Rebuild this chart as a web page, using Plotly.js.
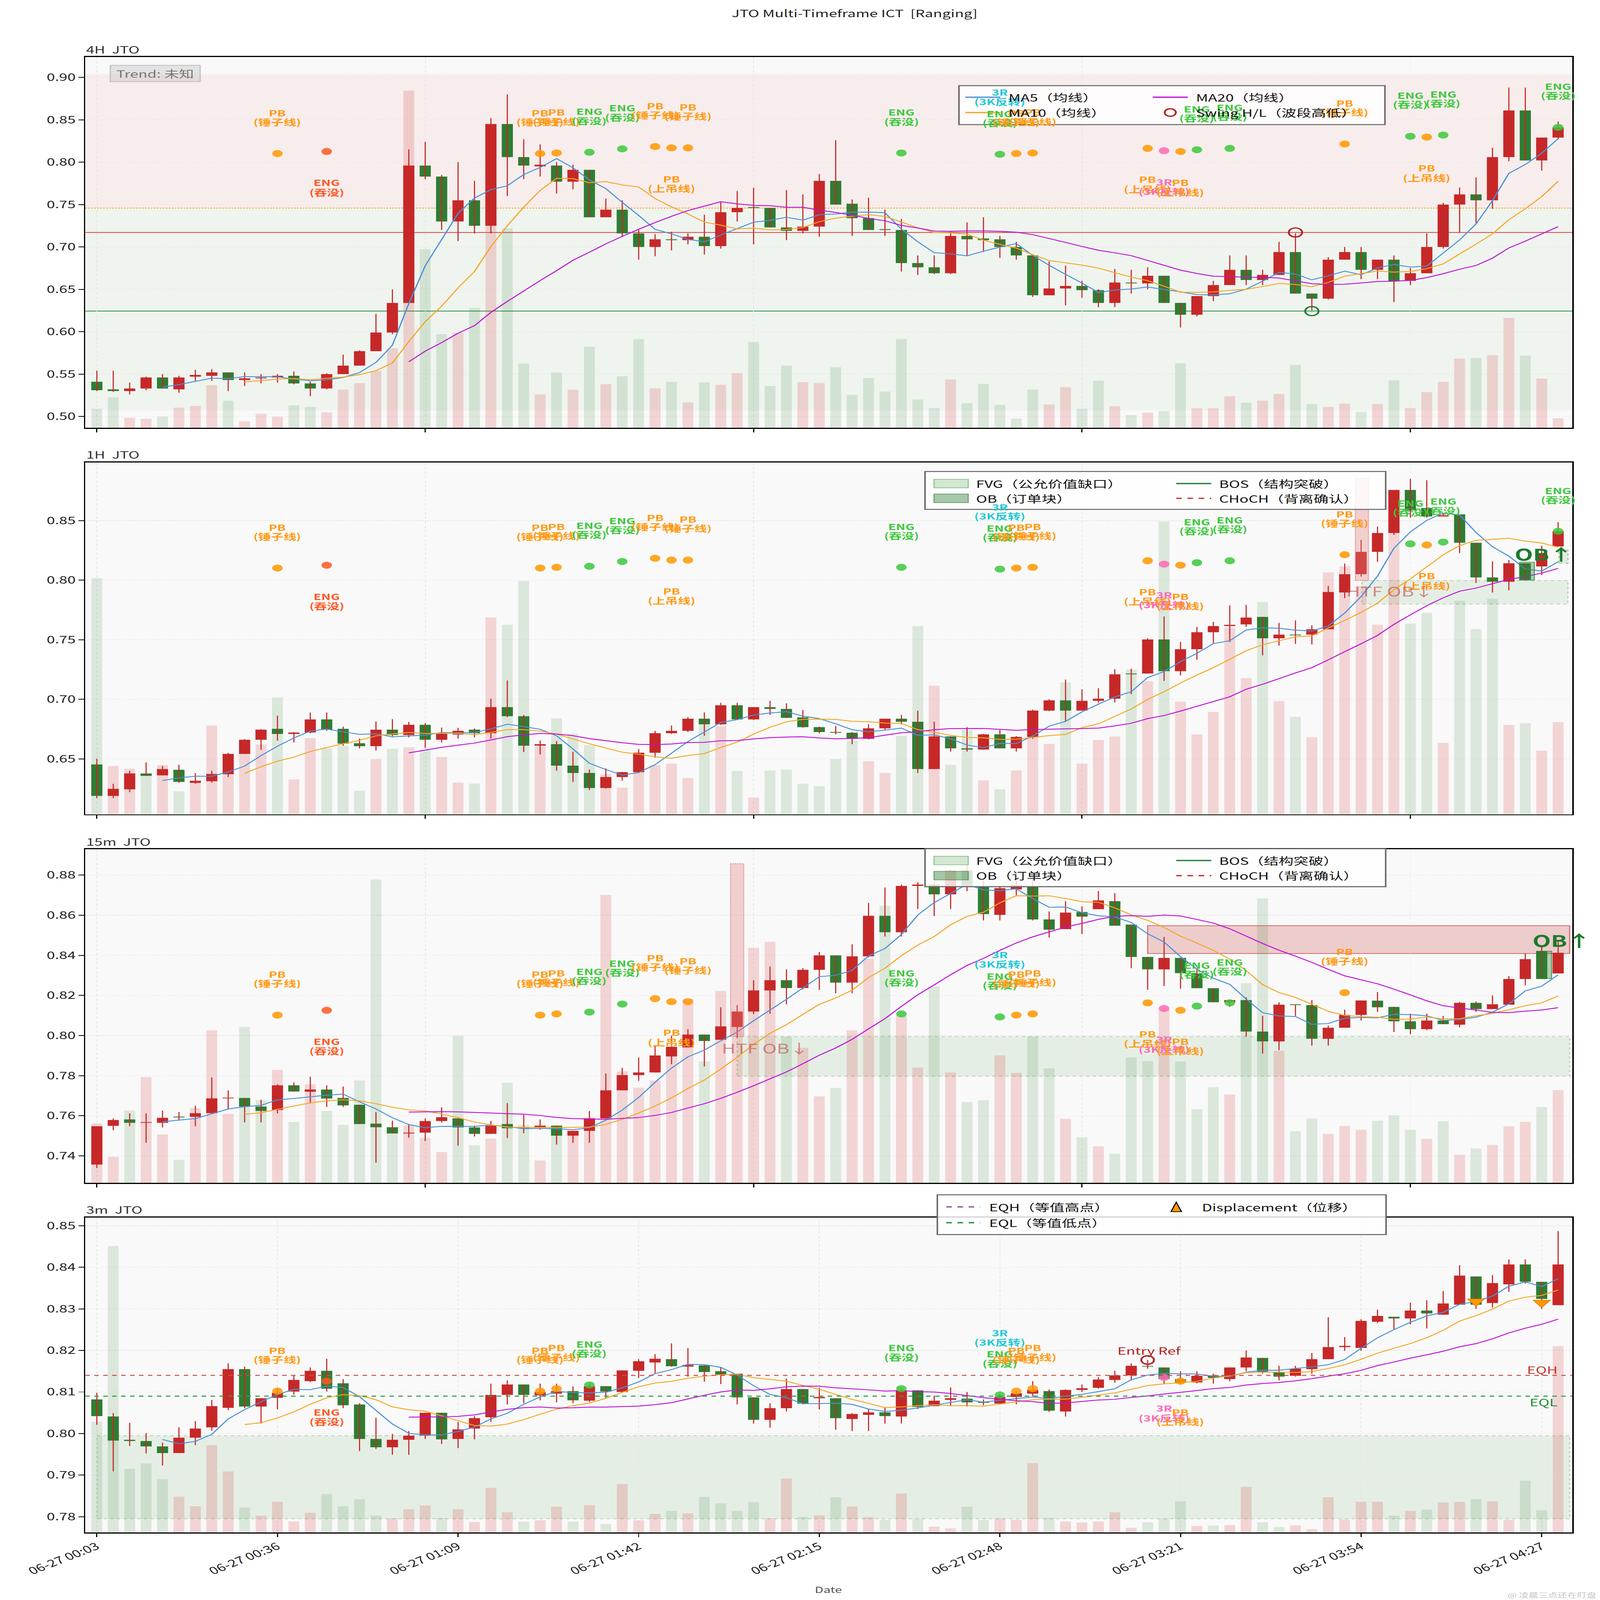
<!DOCTYPE html>
<html><head><meta charset="utf-8">
<script src="https://cdn.plot.ly/plotly-3.0.1.min.js"></script>
<style>html,body{margin:0;padding:0;background:#fff;overflow:hidden}#chart{position:absolute;left:0;top:0;width:4293px;height:6370px;transform-origin:0 0}</style>
</head><body><div id="chart"></div>
<script>
const W = 4293, H = 6370;
const FONT = '"Noto Sans CJK SC","Noto Sans",sans-serif';

// ---------------- DATA ----------------
const idx = Array.from({length: 90}, (_, i) => i);
const xTickVals = [0, 11, 22, 33, 44, 55, 66, 77, 88];
const xTickText = ['06-27 00:03','06-27 00:36','06-27 01:09','06-27 01:42','06-27 02:15','06-27 02:48','06-27 03:21','06-27 03:54','06-27 04:27'];

// 4H
const o4h = [0.541,0.532,0.530,0.533,0.546,0.532,0.547,0.548,0.552,0.543, 0.545,0.546,0.548,0.539,0.533,0.550,0.560,0.577,0.599,0.634, 0.796,0.783,0.730,0.755,0.725,0.845,0.806,0.795,0.796,0.777, 0.791,0.735,0.744,0.716,0.700,0.709,0.708,0.712,0.701,0.741, 0.747,0.746,0.723,0.719,0.724,0.778,0.751,0.734,0.721,0.720, 0.681,0.676,0.669,0.713,0.710,0.709,0.700,0.690,0.643,0.651, 0.654,0.649,0.634,0.658,0.657,0.666,0.634,0.620,0.642,0.655, 0.673,0.661,0.667,0.694,0.645,0.639,0.685,0.694,0.673,0.685, 0.660,0.669,0.700,0.750,0.762,0.755,0.806,0.861,0.802,0.829];
const h4h = [0.554,0.554,0.540,0.547,0.550,0.548,0.555,0.556,0.552,0.552, 0.550,0.550,0.553,0.541,0.551,0.573,0.578,0.621,0.650,0.815, 0.824,0.785,0.800,0.778,0.852,0.880,0.827,0.821,0.800,0.797, 0.791,0.757,0.755,0.720,0.715,0.718,0.716,0.738,0.753,0.766, 0.770,0.746,0.767,0.762,0.786,0.826,0.756,0.758,0.744,0.733, 0.690,0.690,0.719,0.729,0.735,0.713,0.706,0.690,0.683,0.678, 0.660,0.650,0.674,0.673,0.676,0.666,0.634,0.642,0.660,0.690, 0.690,0.673,0.706,0.716,0.645,0.688,0.700,0.700,0.685,0.690, 0.675,0.716,0.752,0.770,0.782,0.817,0.888,0.888,0.829,0.848];
const l4h = [0.530,0.529,0.526,0.531,0.533,0.528,0.542,0.542,0.530,0.536, 0.539,0.540,0.538,0.524,0.532,0.550,0.560,0.577,0.597,0.632, 0.780,0.720,0.707,0.716,0.716,0.760,0.780,0.783,0.763,0.768, 0.735,0.735,0.712,0.685,0.689,0.696,0.703,0.691,0.698,0.730, 0.703,0.723,0.708,0.716,0.712,0.750,0.713,0.720,0.713,0.671, 0.667,0.668,0.668,0.690,0.694,0.687,0.685,0.641,0.643,0.631, 0.640,0.629,0.629,0.645,0.650,0.634,0.605,0.618,0.636,0.655, 0.655,0.655,0.667,0.645,0.625,0.638,0.685,0.662,0.662,0.635, 0.655,0.669,0.698,0.717,0.728,0.745,0.801,0.802,0.790,0.827];
const c4h = [0.531,0.530,0.533,0.546,0.533,0.546,0.549,0.552,0.543,0.545, 0.546,0.548,0.539,0.533,0.550,0.560,0.577,0.599,0.634,0.796, 0.783,0.730,0.755,0.725,0.845,0.806,0.796,0.797,0.777,0.791, 0.735,0.744,0.716,0.700,0.709,0.708,0.712,0.701,0.741,0.746, 0.746,0.723,0.719,0.724,0.778,0.750,0.734,0.720,0.720,0.681, 0.676,0.669,0.713,0.709,0.708,0.700,0.690,0.643,0.651,0.654, 0.649,0.634,0.658,0.657,0.666,0.634,0.620,0.642,0.655,0.673, 0.661,0.667,0.694,0.645,0.639,0.685,0.694,0.673,0.685,0.660, 0.669,0.700,0.750,0.762,0.755,0.806,0.861,0.802,0.829,0.841];
const v4h = [74,119,39,35,44,78,85,166,105,25, 55,43,87,81,60,149,174,222,310,1314, 696,365,370,467,800,777,250,130,215,148, 316,170,201,346,154,179,99,177,167,213, 334,163,242,178,174,236,128,194,141,346, 110,77,188,96,171,89,36,149,91,158, 74,183,84,50,59,65,251,76,76,123, 98,106,132,245,92,81,94,62,93,185, 77,139,179,269,272,283,428,281,192,37];

// 1H
const o1h = [0.6453,0.6189,0.6244,0.6377,0.6361,0.6408,0.6298,0.6312,0.6371,0.6541, 0.6660,0.6752,0.6709,0.6721,0.6831,0.6752,0.6631,0.6606,0.6745,0.6700, 0.6786,0.6660,0.6704,0.6745,0.6715,0.6934,0.6858,0.6610,0.6623,0.6443, 0.6381,0.6255,0.6347,0.6388,0.6551,0.6715,0.6735,0.6837,0.6790,0.6950, 0.6831,0.6934,0.6919,0.6848,0.6766,0.6725,0.6719,0.6668,0.6756,0.6837, 0.6811,0.6414,0.6688,0.6588,0.6578,0.6705,0.6588,0.6684,0.6905,0.6991, 0.6905,0.6987,0.7005,0.7216,0.7216,0.7502,0.7236,0.7420,0.7563,0.7615, 0.7629,0.7692,0.7512,0.7543,0.7543,0.7588,0.7897,0.8050,0.8238,0.8396, 0.8758,0.8606,0.8535,0.8553,0.8314,0.8023,0.7987,0.8142,0.8116,0.8283];
const h1h = [0.650,0.629,0.640,0.647,0.644,0.645,0.638,0.640,0.655,0.6665, 0.6749,0.6862,0.6725,0.6889,0.6889,0.677,0.667,0.6813,0.6833,0.681, 0.680,0.6762,0.676,0.6755,0.7005,0.7158,0.6868,0.6653,0.665,0.656, 0.641,0.642,0.6390,0.6582,0.6735,0.678,0.685,0.6889,0.697,0.697, 0.6934,0.6987,0.6966,0.691,0.6770,0.6776,0.6725,0.679,0.6837,0.6868, 0.6905,0.6811,0.6690,0.6766,0.6710,0.6741,0.6690,0.6913,0.7000,0.7165, 0.7083,0.7093,0.7253,0.7257,0.7512,0.7696,0.7482,0.7608,0.7650,0.7788, 0.7792,0.7692,0.7641,0.7662,0.7621,0.7952,0.8140,0.8339,0.8450,0.8758, 0.8852,0.8840,0.8560,0.8553,0.8314,0.8158,0.8168,0.8142,0.8289,0.8488];
const l1h = [0.617,0.617,0.622,0.6357,0.6361,0.630,0.629,0.630,0.6347,0.654, 0.6576,0.6653,0.6637,0.6715,0.6735,0.661,0.6588,0.657,0.6690,0.668, 0.6592,0.6637,0.667,0.668,0.667,0.6850,0.6557,0.6537,0.640,0.6306, 0.6238,0.6250,0.6316,0.6380,0.651,0.6709,0.6725,0.6694,0.6785,0.6831, 0.6827,0.6868,0.6844,0.6762,0.6715,0.6705,0.6623,0.6664,0.6745,0.6790, 0.6381,0.6414,0.6561,0.6561,0.6575,0.6588,0.6561,0.6668,0.6900,0.6817, 0.6905,0.6970,0.6974,0.7042,0.7216,0.7154,0.7200,0.7332,0.7471,0.7480, 0.7608,0.7369,0.7451,0.7465,0.7461,0.7588,0.7850,0.8030,0.8155,0.8380, 0.8525,0.8525,0.8535,0.8228,0.7977,0.7896,0.7916,0.8003,0.8044,0.8283];
const c1h = [0.6189,0.6248,0.6377,0.6357,0.6414,0.6306,0.6316,0.6373,0.6541,0.6660, 0.6745,0.6709,0.6721,0.6831,0.6745,0.6627,0.6606,0.6745,0.6700,0.6786, 0.6660,0.6711,0.6735,0.6715,0.6934,0.6858,0.6610,0.6623,0.6443,0.6381, 0.6255,0.6347,0.6388,0.6551,0.6715,0.6735,0.6837,0.6790,0.6950,0.6831, 0.6934,0.6919,0.6844,0.6766,0.6725,0.6719,0.6668,0.6756,0.6837,0.6811, 0.6414,0.6688,0.6588,0.6578,0.6705,0.6588,0.6684,0.6905,0.6991,0.6905, 0.6987,0.7005,0.7210,0.7210,0.7502,0.7236,0.7420,0.7563,0.7615,0.7625, 0.7686,0.7512,0.7543,0.7537,0.7588,0.7901,0.8050,0.8238,0.8396,0.8758, 0.8586,0.8535,0.8545,0.8314,0.8023,0.7987,0.8142,0.8003,0.8228,0.8412];
const v1h = [960,196,185,158,200,93,128,361,163,248, 284,475,142,310,268,278,96,224,266,272, 263,233,129,125,800,770,948,275,390,328, 281,163,108,198,200,206,148,368,358,176, 68,178,182,124,114,225,300,216,168,318, 765,523,201,343,138,102,178,328,286,536, 206,302,316,588,541,1190,458,325,416,758, 553,863,460,396,313,983,1008,928,770,1300, 775,818,290,868,753,876,363,371,258,375];

// 15m
const o15 = [0.7357,0.7550,0.7582,0.7565,0.7565,0.7596,0.7595,0.7613,0.7687,0.7689, 0.7646,0.7629,0.7752,0.7720,0.7731,0.7689,0.7655,0.7561,0.7543,0.7512, 0.7516,0.7574,0.7587,0.7542,0.7510,0.7559,0.7542,0.7542,0.7551,0.7501, 0.7525,0.7587,0.7727,0.7803,0.7816,0.7896,0.7941,0.8005,0.7979,0.8043, 0.8120,0.8225,0.8276,0.8237,0.8328,0.8400,0.8264,0.8395,0.8597,0.8515, 0.8746,0.8753,0.8704,0.8823,0.8744,0.8602,0.8729,0.8744,0.8579,0.8531, 0.8616,0.8630,0.8670,0.8553,0.8392,0.8330,0.8387,0.8311,0.8236,0.8166, 0.8177,0.8020,0.7971,0.8154,0.8152,0.7984,0.8039,0.8103,0.8174,0.8143, 0.8071,0.8032,0.8075,0.8054,0.8163,0.8132,0.8154,0.8282,0.8421,0.8310];
const h15 = [0.7548,0.7587,0.7612,0.7612,0.7626,0.7619,0.7650,0.7791,0.7727,0.7689, 0.7680,0.7757,0.7766,0.7795,0.7752,0.7746,0.7655,0.7619,0.7576,0.7559, 0.7587,0.7642,0.7587,0.7551,0.7574,0.7663,0.7604,0.7582,0.7551,0.7525, 0.7624,0.7811,0.7839,0.7891,0.7950,0.8000,0.8032,0.8005,0.8141,0.8152, 0.8276,0.8344,0.8330,0.8336,0.8417,0.8400,0.8455,0.8661,0.8738,0.8753, 0.8764,0.8764,0.8829,0.8850,0.8780,0.8745,0.8780,0.8780,0.8619,0.8670, 0.8644,0.8721,0.8710,0.8553,0.8392,0.8492,0.8387,0.8336,0.8236,0.8177, 0.8191,0.8098,0.8166,0.8154,0.8177,0.8050,0.8129,0.8175,0.8217,0.8143, 0.8109,0.8109,0.8098,0.8168,0.8170,0.8200,0.8296,0.8409,0.8449,0.8474];
const l15 = [0.7340,0.7528,0.7548,0.7466,0.7542,0.7576,0.7548,0.7613,0.7635,0.7567, 0.7567,0.7612,0.7721,0.7661,0.7644,0.7644,0.7559,0.7366,0.7512,0.7491, 0.7474,0.7567,0.7451,0.7497,0.7510,0.7489,0.7513,0.7531,0.7457,0.7465, 0.7465,0.7587,0.7727,0.7774,0.7816,0.7857,0.7941,0.7846,0.7979,0.7990, 0.8107,0.8109,0.8156,0.8230,0.8228,0.8211,0.8211,0.8390,0.8494,0.8494, 0.8631,0.8596,0.8631,0.8720,0.8574,0.8574,0.8700,0.8574,0.8489,0.8531, 0.8506,0.8630,0.8548,0.8336,0.8228,0.8247,0.8234,0.8236,0.8166,0.8143, 0.7995,0.7910,0.7927,0.8098,0.7950,0.7950,0.8039,0.8075,0.8118,0.8018, 0.8007,0.8027,0.8057,0.8041,0.8118,0.8132,0.8154,0.8251,0.8282,0.8310];
const c15 = [0.7548,0.7579,0.7565,0.7567,0.7590,0.7592,0.7613,0.7687,0.7689,0.7646, 0.7624,0.7752,0.7721,0.7731,0.7686,0.7652,0.7559,0.7543,0.7512,0.7516, 0.7574,0.7593,0.7542,0.7510,0.7550,0.7538,0.7538,0.7551,0.7501,0.7525, 0.7587,0.7727,0.7803,0.7816,0.7901,0.7944,0.8005,0.7973,0.8046,0.8120, 0.8225,0.8276,0.8237,0.8328,0.8400,0.8264,0.8395,0.8597,0.8515,0.8746, 0.8753,0.8704,0.8823,0.8744,0.8606,0.8735,0.8750,0.8579,0.8528,0.8613, 0.8593,0.8674,0.8548,0.8392,0.8330,0.8387,0.8311,0.8236,0.8166,0.8177, 0.8020,0.7971,0.8154,0.8152,0.7984,0.8039,0.8103,0.8175,0.8141,0.8071, 0.8032,0.8075,0.8057,0.8163,0.8132,0.8156,0.8282,0.8381,0.8282,0.8413];
const v15 = [261,115,318,465,213,101,328,670,303,685, 363,496,268,433,316,255,450,1333,243,253, 198,135,645,165,195,440,255,98,233,228, 288,1266,490,418,450,578,808,533,843,733, 1033,1059,643,593,380,417,670,985,1218,733, 506,863,485,355,363,560,483,643,503,281, 200,160,128,551,535,763,533,323,420,388, 878,1250,580,227,283,215,250,233,273,296, 233,193,271,123,151,166,248,268,333,408];

// 3m
const o3m = [0.8082,0.8041,0.7985,0.7982,0.7969,0.7953,0.7990,0.8015,0.8062,0.8155, 0.8065,0.8086,0.8101,0.8126,0.8151,0.8121,0.8070,0.7987,0.7967,0.7985, 0.7995,0.8050,0.7987,0.8012,0.8039,0.8093,0.8118,0.8092,0.8096,0.8102, 0.8079,0.8114,0.8100,0.8151,0.8171,0.8179,0.8161,0.8164,0.8150,0.8144, 0.8087,0.8033,0.8061,0.8107,0.8085,0.8085,0.8035,0.8045,0.8051,0.8041, 0.8104,0.8066,0.8081,0.8084,0.8076,0.8072,0.8088,0.8096,0.8102,0.8053, 0.8105,0.8110,0.8129,0.8140,0.8162,0.8159,0.8131,0.8123,0.8140,0.8131, 0.8159,0.8182,0.8147,0.8139,0.8155,0.8179,0.8208,0.8206,0.8269,0.8281, 0.8277,0.8296,0.8286,0.8310,0.8378,0.8314,0.8359,0.8407,0.8365,0.8309];
const h3m = [0.8098,0.8049,0.8026,0.8001,0.7978,0.8015,0.8030,0.8081,0.8169,0.8161, 0.8085,0.8110,0.8140,0.8159,0.8180,0.8131,0.8073,0.8038,0.7999,0.8006, 0.8050,0.8050,0.8028,0.8042,0.8120,0.8128,0.8118,0.8120,0.8120,0.8113, 0.8122,0.8114,0.8152,0.8179,0.8191,0.8217,0.8206,0.8164,0.8159,0.8144, 0.8087,0.8073,0.8132,0.8107,0.8110,0.8085,0.8049,0.8060,0.8064,0.8110, 0.8104,0.8091,0.8111,0.8100,0.8082,0.8095,0.8102,0.8126,0.8106,0.8106, 0.8118,0.8136,0.8151,0.8169,0.8177,0.8159,0.8150,0.8150,0.8144,0.8159, 0.8200,0.8182,0.8163,0.8163,0.8194,0.8280,0.8232,0.8275,0.8298,0.8281, 0.8315,0.8321,0.8343,0.8405,0.8378,0.8381,0.8419,0.8419,0.8365,0.8487];
const l3m = [0.8021,0.7909,0.7970,0.7952,0.7923,0.7953,0.7972,0.8007,0.8056,0.8061, 0.8024,0.8058,0.8094,0.8124,0.8101,0.8061,0.7958,0.7963,0.7949,0.7949, 0.7987,0.7975,0.7965,0.7986,0.8028,0.8070,0.8073,0.8080,0.8075,0.8073, 0.8076,0.8085,0.8100,0.8134,0.8145,0.8161,0.8137,0.8125,0.8119,0.8070, 0.8024,0.8014,0.8053,0.8070,0.8058,0.8009,0.8006,0.8006,0.8024,0.8024, 0.8059,0.8066,0.8067,0.8065,0.8068,0.8070,0.8070,0.8090,0.8052,0.8041, 0.8100,0.8108,0.8122,0.8128,0.8156,0.8120,0.8118,0.8121,0.8120,0.8126, 0.8150,0.8144,0.8128,0.8137,0.8144,0.8179,0.8199,0.8199,0.8266,0.8251, 0.8263,0.8253,0.8286,0.8310,0.8300,0.8303,0.8341,0.8361,0.8300,0.8309];
const c3m = [0.8042,0.7983,0.7982,0.7969,0.7953,0.7990,0.8012,0.8066,0.8155,0.8065, 0.8085,0.8098,0.8129,0.8151,0.8108,0.8068,0.7987,0.7967,0.7985,0.7995, 0.8050,0.7986,0.8010,0.8037,0.8093,0.8118,0.8093,0.8100,0.8102,0.8080, 0.8114,0.8101,0.8152,0.8174,0.8180,0.8162,0.8165,0.8148,0.8142,0.8087, 0.8033,0.8061,0.8107,0.8072,0.8088,0.8037,0.8047,0.8051,0.8042,0.8104, 0.8064,0.8079,0.8085,0.8075,0.8074,0.8088,0.8097,0.8105,0.8055,0.8105, 0.8109,0.8130,0.8140,0.8163,0.8161,0.8131,0.8123,0.8139,0.8134,0.8159, 0.8183,0.8148,0.8137,0.8156,0.8179,0.8208,0.8211,0.8271,0.8283,0.8277, 0.8296,0.8289,0.8313,0.8380,0.8310,0.8362,0.8407,0.8365,0.8324,0.8407];
const v3m = [435,1125,250,271,209,140,103,343,240,98, 66,121,43,77,151,103,131,66,55,91, 106,56,91,41,175,79,43,48,101,43, 107,33,190,48,73,85,75,140,114,85, 119,55,212,61,67,138,102,60,50,153, 53,23,16,101,50,55,50,273,57,43, 39,43,79,18,40,55,123,25,27,29, 179,40,21,28,13,138,51,121,121,66, 85,90,118,120,131,122,50,203,87,732];

// candlestick pattern markers
const patIdx  = [11,14,27,28,30,32,34,35,36,49,55,56,57,64,65,66,67,69,76,80,81,82,89];
const patY    = [0.8102,0.8126,0.8102,0.8108,0.8117,0.8157,0.8184,0.8169,0.8169,0.8108,0.8093,0.8102,0.8108,0.8163,0.8135,0.8126,0.8147,0.8163,0.8214,0.8305,0.8296,0.8320,0.8411];
const patKind = ['PB','ENGd','PB','PB','ENG','ENG','PB','PBh','PB','ENG','ENG','PB','PB','PBh','3Rd','PBh','ENG','ENG','PB','ENG','PBh','ENG','ENG'];
const threeRBullIdx = 55;
const pat15Shown = [11,14,27,28,30,32,34,35,36,49,55,56,57,64,65,66,67,69,76];
const pat3Shown  = [11,14,27,28,30,49,55,56,57,65,66];

// levels / zones
const swingHigh4h = {i: 73, y: 0.7171}, swingLow4h = {i: 74, y: 0.6243};
const premiumTop = 0.9039, eqLevel = 0.7458, discountBot = 0.507;
const eqh3m = 0.8140, eql3m = 0.8090;
const entryRef = {i: 64, y: 0.8177};
const dispIdx = [84, 88], dispY = [0.8318, 0.8315];

// ---------------- BUILD ----------------
const X = px => px / W, Y = py => 1 - py / H;
const data = [];
const layout = {
  width: W, height: H, margin: {l: 0, r: 0, t: 0, b: 0},
  paper_bgcolor: '#ffffff', plot_bgcolor: '#f9f9f9',
  font: {family: FONT, size: 40, color: '#222'},
  showlegend: false, hovermode: false, barmode: 'overlay',
  title: {text: 'JTO Multi-Timeframe ICT\u00a0 [Ranging]', x: 2293 / W, xanchor: 'center', y: Y(55), yanchor: 'middle', font: {family: FONT, size: 40, color: '#222'}},
  shapes: [], annotations: []
};
function shp(o) { layout.shapes.push(o); }
function ann(o) {
  const base = {showarrow: false, font: {family: FONT, size: 40, color: '#111'}};
  layout.annotations.push(Object.assign(base, o));
}
function ma(arr, w) { return arr.map((_, i) => i < w - 1 ? null : arr.slice(i - w + 1, i + 1).reduce((a, b) => a + b, 0) / w); }

const kindStyle = {
  PB:   {t1: 'PB',  t2: '(锤子线)',  up: true,  color: '#ff9a14', dot: '#ff9800'},
  PBh:  {t1: 'PB',  t2: '(上吊线)',  up: false, color: '#ff9a14', dot: '#ff9800'},
  ENG:  {t1: 'ENG', t2: '(吞没)',    up: true,  color: '#3cc83c', dot: '#3cc83c'},
  ENGd: {t1: 'ENG', t2: '(吞没)',    up: false, color: '#ff5722', dot: '#ff5722'},
  '3Rd':{t1: '3R',  t2: '(3K反转)',  up: false, color: '#ff69b4', dot: '#ff69b4'}
};

const panels = [
  {title: '4H\u00a0 JTO',  O: o4h, Hi: h4h, L: l4h, C: c4h, V: v4h, top: 226.5, bot: 1703, yr: [0.4867, 0.9242], yt: [0.50,0.55,0.60,0.65,0.70,0.75,0.80,0.85,0.90], shown: patIdx, titleY: 196},
  {title: '1H\u00a0 JTO',  O: o1h, Hi: h1h, L: l1h, C: c1h, V: v1h, top: 1841, bot: 3242, yr: [0.6034, 0.8989], yt: [0.65,0.70,0.75,0.80,0.85], shown: patIdx, titleY: 1809},
  {title: '15m\u00a0 JTO', O: o15, Hi: h15, L: l15, C: c15, V: v15, top: 3381, bot: 4709, yr: [0.7266, 0.8929], yt: [0.74,0.76,0.78,0.80,0.82,0.84,0.86,0.88], shown: pat15Shown, titleY: 3350},
  {title: '3m\u00a0 JTO',  O: o3m, Hi: h3m, L: l3m, C: c3m, V: v3m, top: 4847, bot: 6101, yr: [0.7762, 0.8520], yt: [0.78,0.79,0.80,0.81,0.82,0.83,0.84,0.85], shown: pat3Shown, titleY: 4815}
];

const UP = '#c62828', DN = '#2e7d32', WICK = '#c62828';
const VUP = 'rgba(211,47,47,0.18)', VDN = 'rgba(46,125,50,0.15)';

panels.forEach((p, k) => {
  const n = k + 1;
  const xid = n === 1 ? 'x' : 'x' + n, xa = n === 1 ? 'xaxis' : 'xaxis' + n;
  const vid = n === 1 ? 'y' : 'y' + n, va = n === 1 ? 'yaxis' : 'yaxis' + n;
  const pid = 'y' + (n + 4), pa = 'yaxis' + (n + 4);
  const last = n === 4;
  const vmax = Math.max.apply(null, p.V);

  layout[va] = {domain: [Y(p.bot), Y(p.top)], range: [0, vmax * 1.1], visible: false, fixedrange: true, anchor: xid};
  layout[pa] = {overlaying: vid, anchor: xid, side: 'left', range: p.yr, tickvals: p.yt, tickformat: '.2f',
    showgrid: true, gridcolor: '#e2e2e2', griddash: 'dot', gridwidth: 2, zeroline: false,
    showline: true, linecolor: '#000', linewidth: 4, mirror: true,
    ticks: 'outside', ticklen: 14, tickwidth: 3, tickcolor: '#000', tickfont: {family: FONT, size: 40, color: '#222'}};
  layout[xa] = {domain: [229 / W, 4219 / W], anchor: vid, range: [-0.7, 89.87],
    tickvals: last ? xTickVals : [0, 20, 40, 60, 80], ticktext: last ? xTickText : undefined,
    showticklabels: last, tickangle: -30, tickfont: {family: FONT, size: 40, color: '#222'},
    showgrid: true, gridcolor: '#e4e4e4', griddash: 'dash', gridwidth: 2, zeroline: false,
    showline: true, linecolor: '#000', linewidth: 4, mirror: true,
    ticks: 'outside', ticklen: 14, tickwidth: 3, tickcolor: '#000'};

  const isUp = p.C.map((c, i) => c >= p.O[i]);
  data.push({type: 'bar', x: idx, y: p.V, xaxis: xid, yaxis: vid, width: 0.66,
    marker: {color: isUp.map(u => u ? VUP : VDN), line: {width: 0}}, hoverinfo: 'skip'});
  const span = p.yr[1] - p.yr[0];
  data.push({type: 'bar', x: idx, base: p.O.map((o, i) => Math.min(o, p.C[i])),
    y: p.O.map((o, i) => Math.max(Math.abs(p.C[i] - o), span * 0.0022)),
    xaxis: xid, yaxis: pid, width: 0.68,
    marker: {color: isUp.map(u => u ? UP : DN), line: {width: 0}}, hoverinfo: 'skip'});
  const wx = [], wy = [];
  idx.forEach(i => { wx.push(i, i, null); wy.push(p.L[i], p.Hi[i], null); });
  data.push({type: 'scatter', mode: 'lines', x: wx, y: wy, xaxis: xid, yaxis: pid,
    line: {color: WICK, width: 3}, connectgaps: false, hoverinfo: 'skip'});
  [[5, '#4a90d9'], [10, '#f5a623'], [20, '#bf10d8']].forEach(([w, col]) => {
    data.push({type: 'scatter', mode: 'lines', x: idx, y: ma(p.C, w), xaxis: xid, yaxis: pid,
      line: {color: col, width: 3.5}, hoverinfo: 'skip'});
  });
  const shownPos = patIdx.map((v, j) => j).filter(j => p.shown.indexOf(patIdx[j]) >= 0);
  data.push({type: 'scatter', mode: 'markers', x: shownPos.map(j => patIdx[j]), y: shownPos.map(j => patY[j]),
    xaxis: xid, yaxis: pid, marker: {size: 28, color: shownPos.map(j => kindStyle[patKind[j]].dot), opacity: 0.85, line: {width: 0}},
    hoverinfo: 'skip', cliponaxis: false});
  shownPos.forEach(j => {
    const s = kindStyle[patKind[j]];
    const sh1 = s.up ? 163 : -123, sh2 = s.up ? 127 : -161;
    ann({xref: xid, yref: pid, x: patIdx[j], y: patY[j], yshift: sh1, text: '<b>' + s.t1 + '</b>', xanchor: 'center', yanchor: 'middle', font: {family: FONT, size: 34, color: s.color}});
    ann({xref: xid, yref: pid, x: patIdx[j], y: patY[j], yshift: sh2, text: '<b>' + s.t2 + '</b>', xanchor: 'center', yanchor: 'middle', font: {family: FONT, size: 34, color: s.color}});
    if (patIdx[j] === threeRBullIdx) {
      ann({xref: xid, yref: pid, x: patIdx[j], y: patY[j], yshift: 248, text: '<b>3R</b>', xanchor: 'center', yanchor: 'middle', font: {family: FONT, size: 34, color: '#1fc8d6'}});
      ann({xref: xid, yref: pid, x: patIdx[j], y: patY[j], yshift: 211, text: '<b>(3K反转)</b>', xanchor: 'center', yanchor: 'middle', font: {family: FONT, size: 34, color: '#1fc8d6'}});
    }
  });
  ann({xref: 'paper', yref: 'paper', x: X(229), y: Y(p.titleY), xanchor: 'left', yanchor: 'middle', text: p.title, font: {family: FONT, size: 40, color: '#333'}});
});

// ---- panel 1 extras ----
shp({type: 'rect', xref: 'x domain', yref: 'y5', x0: 0, x1: 1, y0: eqLevel, y1: premiumTop, fillcolor: 'rgba(230,80,60,0.065)', line: {width: 0}, layer: 'below'});
shp({type: 'rect', xref: 'x domain', yref: 'y5', x0: 0, x1: 1, y0: discountBot, y1: eqLevel, fillcolor: 'rgba(60,150,60,0.05)', line: {width: 0}, layer: 'below'});
shp({type: 'line', xref: 'x domain', yref: 'y5', x0: 0, x1: 1, y0: eqLevel, y1: eqLevel, line: {color: '#f5a623', width: 4, dash: 'dot'}, layer: 'below'});
shp({type: 'line', xref: 'x domain', yref: 'y5', x0: 0, x1: 1, y0: swingHigh4h.y, y1: swingHigh4h.y, line: {color: '#d45656', width: 3.5}, layer: 'below'});
shp({type: 'line', xref: 'x domain', yref: 'y5', x0: 0, x1: 1, y0: swingLow4h.y, y1: swingLow4h.y, line: {color: '#3c9a50', width: 3.5}, layer: 'below'});
data.push({type: 'scatter', mode: 'markers', x: [swingHigh4h.i], y: [swingHigh4h.y], xaxis: 'x', yaxis: 'y5', marker: {symbol: 'circle-open', size: 36, color: '#b22222', line: {width: 5, color: '#b22222'}}, hoverinfo: 'skip'});
data.push({type: 'scatter', mode: 'markers', x: [swingLow4h.i], y: [swingLow4h.y], xaxis: 'x', yaxis: 'y5', marker: {symbol: 'circle-open', size: 36, color: '#1e7d32', line: {width: 5, color: '#1e7d32'}}, hoverinfo: 'skip'});
shp({type: 'rect', xref: 'paper', yref: 'paper', x0: X(296), x1: X(537), y0: Y(325), y1: Y(260), fillcolor: 'rgba(200,200,200,0.45)', line: {color: '#bdbdbd', width: 3}, layer: 'above'});
ann({xref: 'paper', yref: 'paper', x: X(416), y: Y(293), xanchor: 'center', yanchor: 'middle', text: 'Trend: 未知', font: {family: FONT, size: 40, color: '#777'}});

// ---- panel 2 extras ----
shp({type: 'rect', xref: 'x2', yref: 'y6', x0: 76.65, x1: 77.45, y0: 0.7997, y1: 0.8858, fillcolor: 'rgba(230,130,130,0.35)', line: {color: 'rgba(210,90,90,0.7)', width: 3, dash: 'dot'}, layer: 'above'});
shp({type: 'rect', xref: 'x2', yref: 'y6', x0: 77.05, x1: 89.6, y0: 0.7799, y1: 0.7997, fillcolor: 'rgba(60,150,60,0.1)', line: {color: 'rgba(60,150,60,0.35)', width: 3, dash: 'dash'}, layer: 'below'});
shp({type: 'rect', xref: 'x2', yref: 'y6', x0: 86.65, x1: 87.55, y0: 0.8000, y1: 0.8151, fillcolor: 'rgba(46,125,50,0.35)', line: {color: 'rgba(46,125,50,0.7)', width: 3}, layer: 'above'});
shp({type: 'rect', xref: 'x2', yref: 'y6', x0: 89.05, x1: 89.6, y0: 0.8143, y1: 0.8255, fillcolor: 'rgba(60,150,60,0.12)', line: {color: 'rgba(60,150,60,0.5)', width: 3, dash: 'dash'}, layer: 'above'});
ann({xref: 'x2', yref: 'y6', x: 76.05, y: 0.7913, xanchor: 'left', yanchor: 'middle', text: 'HTF OB↓', font: {family: FONT, size: 52, color: 'rgba(190,70,70,0.6)'}});
ann({xref: 'x2', yref: 'y6', x: 86.3, y: 0.8225, xanchor: 'left', yanchor: 'middle', text: '<b>OB↑</b>', font: {family: FONT, size: 64, color: '#1b7a2b'}});

// ---- panel 3 extras ----
shp({type: 'rect', xref: 'x3', yref: 'y7', x0: 38.6, x1: 39.4, y0: 0.7995, y1: 0.8857, fillcolor: 'rgba(230,130,130,0.35)', line: {color: 'rgba(210,90,90,0.7)', width: 3, dash: 'dot'}, layer: 'above'});
shp({type: 'rect', xref: 'x3', yref: 'y7', x0: 39.0, x1: 89.7, y0: 0.7797, y1: 0.7995, fillcolor: 'rgba(60,150,60,0.1)', line: {color: 'rgba(60,150,60,0.35)', width: 3, dash: 'dash'}, layer: 'below'});
shp({type: 'rect', xref: 'x3', yref: 'y7', x0: 64.0, x1: 89.7, y0: 0.8409, y1: 0.8548, fillcolor: 'rgba(205,70,70,0.25)', line: {color: 'rgba(200,80,80,0.8)', width: 3}, layer: 'below'});
shp({type: 'rect', xref: 'x3', yref: 'y7', x0: 87.7, x1: 88.6, y0: 0.8285, y1: 0.8421, fillcolor: 'rgba(46,125,50,0.35)', line: {color: 'rgba(46,125,50,0.7)', width: 3}, layer: 'above'});
ann({xref: 'x3', yref: 'y7', x: 38.0, y: 0.7939, xanchor: 'left', yanchor: 'middle', text: 'HTF OB↓', font: {family: FONT, size: 52, color: 'rgba(190,70,70,0.6)'}});
ann({xref: 'x3', yref: 'y7', x: 87.4, y: 0.8477, xanchor: 'left', yanchor: 'middle', text: '<b>OB↑</b>', font: {family: FONT, size: 64, color: '#1b7a2b'}});

// ---- panel 4 extras ----
shp({type: 'rect', xref: 'x4', yref: 'y8', x0: 0.0, x1: 89.7, y0: 0.7795, y1: 0.7995, fillcolor: 'rgba(60,150,60,0.1)', line: {color: 'rgba(60,150,60,0.35)', width: 3, dash: 'dash'}, layer: 'below'});
shp({type: 'line', xref: 'x4 domain', yref: 'y8', x0: 0, x1: 1, y0: eqh3m, y1: eqh3m, line: {color: '#cc4a4a', width: 4, dash: 'dash'}, layer: 'above'});
shp({type: 'line', xref: 'x4 domain', yref: 'y8', x0: 0, x1: 1, y0: eql3m, y1: eql3m, line: {color: '#2e9e4a', width: 4, dash: 'dash'}, layer: 'above'});
ann({xref: 'x4', yref: 'y8', x: 89.0, y: 0.8154, xanchor: 'right', yanchor: 'middle', text: 'EQH', font: {family: FONT, size: 40, color: '#c0392b'}});
ann({xref: 'x4', yref: 'y8', x: 89.0, y: 0.8076, xanchor: 'right', yanchor: 'middle', text: 'EQL', font: {family: FONT, size: 40, color: '#1e8a34'}});
data.push({type: 'scatter', mode: 'markers', x: [entryRef.i], y: [entryRef.y], xaxis: 'x4', yaxis: 'y8', marker: {symbol: 'circle-open', size: 34, color: '#b22222', line: {width: 5, color: '#b22222'}}, hoverinfo: 'skip'});
ann({xref: 'x4', yref: 'y8', x: entryRef.i + 0.1, y: 0.8200, xanchor: 'center', yanchor: 'middle', text: 'Entry Ref', font: {family: FONT, size: 40, color: '#b22222'}});
data.push({type: 'scatter', mode: 'markers', x: dispIdx, y: dispY, xaxis: 'x4', yaxis: 'y8', marker: {symbol: 'triangle-down', size: 40, color: '#ff9800', line: {width: 2, color: '#e07800'}}, hoverinfo: 'skip'});

// ---- legends ----
function legendBox(x0, y0, x1, y1) { shp({type: 'rect', xref: 'paper', yref: 'paper', x0: X(x0), x1: X(x1), y0: Y(y1), y1: Y(y0), fillcolor: 'rgba(255,255,255,0.82)', line: {color: '#666', width: 4}, layer: 'above'}); }
function legendLine(x0, x1, y, color, dash) { shp({type: 'line', xref: 'paper', yref: 'paper', x0: X(x0), x1: X(x1), y0: Y(y), y1: Y(y), line: {color: color, width: 5, dash: dash || 'solid'}, layer: 'above'}); }
function legendPatch(x0, x1, yc, fill, edge) { shp({type: 'rect', xref: 'paper', yref: 'paper', x0: X(x0), x1: X(x1), y0: Y(yc + 17), y1: Y(yc - 17), fillcolor: fill, line: {color: edge, width: 3}, layer: 'above'}); }
function legendText(x, y, t) { ann({xref: 'paper', yref: 'paper', x: X(x), y: Y(y), xanchor: 'left', yanchor: 'middle', text: t, font: {family: FONT, size: 40, color: '#111'}}); }

legendBox(2573, 341, 3716, 496);
legendLine(2590, 2684, 387, '#4a90d9'); legendText(2704, 387, 'MA5（均线）');
legendLine(2590, 2684, 448, '#f5a623'); legendText(2704, 448, 'MA10（均线）');
legendLine(3093, 3187, 387, '#bf10d8'); legendText(3207, 387, 'MA20（均线）');
shp({type: 'circle', xref: 'paper', yref: 'paper', x0: X(3125), x1: X(3155), y0: Y(463), y1: Y(433), line: {color: '#b22222', width: 5}, fillcolor: 'rgba(0,0,0,0)', layer: 'above'});
legendText(3207, 448, 'Swing H/L（波段高低）');
[[1877, 2028, 1925, 1984], [3379, 3530, 3426, 3486]].forEach(([b0, b1, r1, r2]) => {
  legendBox(2482, b0, 3718, b1);
  legendPatch(2506, 2598, r1, 'rgba(60,150,60,0.22)', 'rgba(60,150,60,0.5)'); legendText(2617, r1, 'FVG（公允价值缺口）');
  legendPatch(2506, 2598, r2, 'rgba(46,125,50,0.42)', 'rgba(46,125,50,0.6)'); legendText(2617, r2, 'OB（订单块）');
  legendLine(3156, 3250, r1, '#1a7f2a'); legendText(3269, r1, 'BOS（结构突破）');
  legendLine(3156, 3250, r2, '#c62828', 'dash'); legendText(3269, r2, 'CHoCH（背离确认）');
});
legendBox(2515, 4757, 3719, 4915);
legendLine(2539, 2630, 4805, '#9b4a9f', 'dash'); legendText(2652, 4805, 'EQH（等值高点）');
legendLine(2539, 2630, 4868, '#1e8a34', 'dash'); legendText(2652, 4868, 'EQL（等值低点）');
shp({type: 'path', xref: 'paper', yref: 'paper', path: `M ${X(3156)},${Y(4786)} L ${X(3170)},${Y(4824)} L ${X(3142)},${Y(4824)} Z`, fillcolor: '#ff9800', line: {color: '#000', width: 3}, layer: 'above'});
legendText(3223, 4805, 'Displacement（位移）');

ann({xref: 'paper', yref: 'paper', x: X(2222), y: Y(6327), xanchor: 'center', yanchor: 'middle', text: 'Date', font: {family: FONT, size: 34, color: '#555'}});
ann({xref: 'paper', yref: 'paper', x: X(4285), y: Y(6348), xanchor: 'right', yanchor: 'middle', text: '@ 凌晨三点还在盯盘', font: {family: FONT, size: 26, color: '#c4c4c4'}});

// fit the full-size figure into the actual viewport (the window may be capped smaller than the figure)
const el = document.getElementById('chart');
const sx = Math.min(1, window.innerWidth / W), sy = Math.min(1, window.innerHeight / H);
if (sx < 1 || sy < 1) el.style.transform = 'scale(' + sx + ',' + sy + ')';

Plotly.newPlot('chart', data, layout, {staticPlot: true, displayModeBar: false});
</script>
</body></html>
